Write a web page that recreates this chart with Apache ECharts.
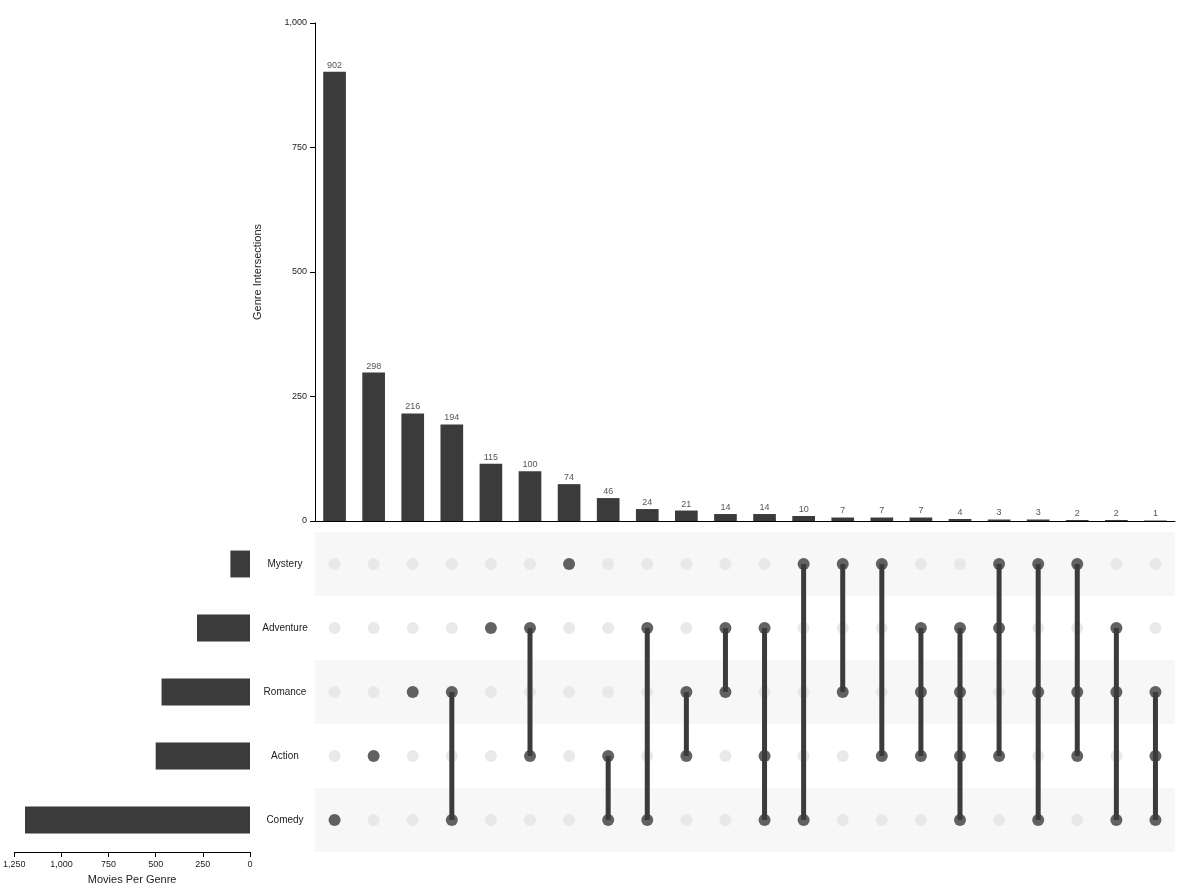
<!DOCTYPE html>
<html><head><meta charset="utf-8">
<script src="https://cdn.jsdelivr.net/npm/echarts@6/dist/echarts.min.js"></script>
<style>html,body{margin:0;padding:0;background:#fff}#c{width:1183px;height:892px}</style>
</head><body><div id="c"></div>
<script>
const sets = ['Comedy','Action','Romance','Adventure','Mystery']; // bottom to top
const setSizes = [1193, 500, 469, 281, 104];
const intersectionCounts = [902,298,216,194,115,100,74,46,24,21,14,14,10,7,7,7,4,3,3,2,2,1];
const intersectionMembers = [
 ['Comedy'],['Action'],['Romance'],['Romance','Comedy'],['Adventure'],['Adventure','Action'],
 ['Mystery'],['Action','Comedy'],['Adventure','Comedy'],['Romance','Action'],['Adventure','Romance'],
 ['Adventure','Action','Comedy'],['Mystery','Comedy'],['Mystery','Romance'],['Mystery','Action'],
 ['Adventure','Romance','Action'],['Adventure','Romance','Action','Comedy'],['Mystery','Adventure','Action'],
 ['Mystery','Romance','Comedy'],['Mystery','Romance','Action'],['Adventure','Romance','Comedy'],
 ['Romance','Action','Comedy']
];
const cols = intersectionCounts.map((_, i) => 'I' + i);
const yTicks = [0, 250, 500, 750, 1000];

const dots = [];
const segs = [];
intersectionMembers.forEach((m, i) => {
  const idx = m.map(s => sets.indexOf(s));
  sets.forEach((s, r) => dots.push({value: [i, r], itemStyle: {color: idx.includes(r) ? '#3b3b3b' : '#e4e4e4'}}));
  if (idx.length > 1) segs.push([i, Math.min(...idx), Math.max(...idx)]);
});

const chart = echarts.init(document.getElementById('c'));
const txt = {fontFamily: 'Arial, Liberation Sans, sans-serif', color: '#222', fontSize: 10};
chart.setOption({
  animation: false,
  grid: [
    {left: 315, width: 860, top: 23, height: 498},
    {left: 315, width: 860, top: 532, height: 320},
    {left: 10, width: 240, top: 532, height: 320}
  ],
  xAxis: [
    {gridIndex: 0, type: 'category', data: cols, axisLabel: {show: false}, axisTick: {show: false},
     axisLine: {lineStyle: {color: '#000'}}},
    {gridIndex: 1, type: 'category', data: cols, show: false},
    {gridIndex: 2, type: 'value', inverse: true, min: 0, max: 1250, interval: 250,
     axisLine: {show: true, lineStyle: {color: '#000'}}, axisTick: {show: true, lineStyle: {color: '#000'}},
     splitLine: {show: false}, axisLabel: Object.assign({}, txt, {fontSize: 9}),
     name: 'Movies Per Genre', nameLocation: 'middle', nameGap: 22, nameTextStyle: Object.assign({}, txt, {fontSize: 11})}
  ],
  yAxis: [
    {gridIndex: 0, type: 'value', min: 0, max: 1000, interval: 250, data: yTicks,
     axisLine: {show: true, lineStyle: {color: '#000'}}, axisTick: {show: true, lineStyle: {color: '#000'}},
     splitLine: {show: false}, axisLabel: Object.assign({}, txt, {fontSize: 9}),
     name: 'Genre Intersections', nameLocation: 'middle', nameGap: 52, nameRotate: 90,
     nameTextStyle: Object.assign({}, txt, {fontSize: 11})},
    {gridIndex: 1, type: 'value', min: -0.5, max: 4.5, show: false},
    {gridIndex: 2, type: 'category', data: sets, position: 'right',
     axisLine: {show: false}, axisTick: {show: false},
     axisLabel: Object.assign({}, txt, {align: 'center', margin: 35, fontSize: 10})}
  ],
  series: [
    {type: 'bar', xAxisIndex: 0, yAxisIndex: 0, data: intersectionCounts, barWidth: '58%',
     itemStyle: {color: '#3b3b3b'},
     label: {show: true, position: 'top', color: '#555', fontSize: 9, fontFamily: 'Arial, sans-serif', distance: 2}},
    {type: 'scatter', xAxisIndex: 1, yAxisIndex: 1, data: dots, symbolSize: 12, z: 3,
     markArea: {silent: true, itemStyle: {color: '#f7f7f7'},
       data: [[{yAxis: -0.5}, {yAxis: 0.5}], [{yAxis: 1.5}, {yAxis: 2.5}], [{yAxis: 3.5}, {yAxis: 4.5}]]}},
    {type: 'custom', xAxisIndex: 1, yAxisIndex: 1, data: segs, z: 4,
     renderItem: (params, api) => {
       const a = api.coord([api.value(0), api.value(1)]);
       const b = api.coord([api.value(0), api.value(2)]);
       return {type: 'line', shape: {x1: a[0], y1: a[1], x2: b[0], y2: b[1]},
               style: {stroke: '#3b3b3b', lineWidth: 5}};
     }},
    {type: 'bar', xAxisIndex: 2, yAxisIndex: 2, data: setSizes, barWidth: '42%', itemStyle: {color: '#3b3b3b'}}
  ]
});
</script></body></html>
